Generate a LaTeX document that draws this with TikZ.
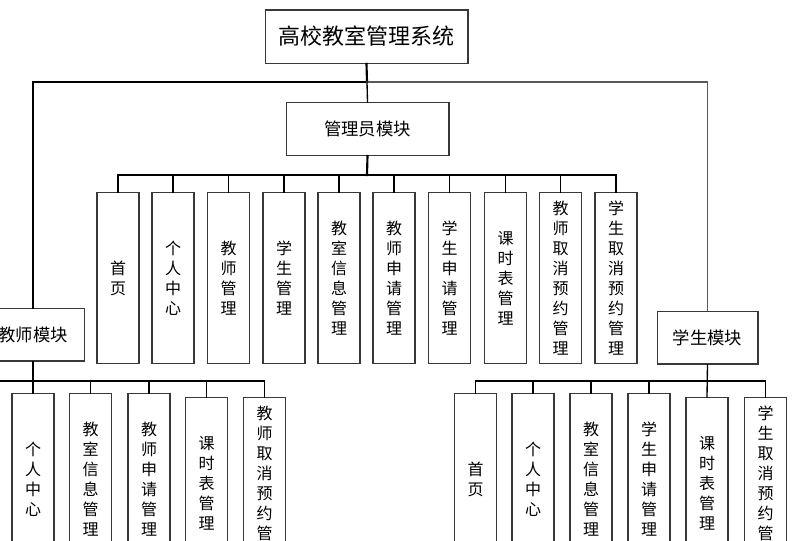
\documentclass[tikz,border=0pt]{standalone}
\usepackage{fontspec}
\newfontfamily\cjk{Noto Sans CJK SC}
\usetikzlibrary{positioning}

\begin{document}
\begin{tikzpicture}[x=0.75pt,y=-0.75pt]
\tikzset{
  boxnode/.style={rectangle,draw=black!78,line width=1pt,fill=white,inner sep=0pt,align=center},
  rootnode/.style={boxnode,minimum width=152pt,minimum height=40pt,font=\cjk\fontsize{16.5pt}{20pt}\selectfont},
  modnode/.style={boxnode,minimum width=77pt,minimum height=39.5pt,font=\cjk\fontsize{13pt}{16pt}\selectfont},
  leafnode/.style={boxnode,anchor=north,minimum width=31.5pt,minimum height=128pt,font=\cjk\fontsize{12pt}{15pt}\selectfont},
  treeedge/.style={draw=black,line width=1pt,line cap=rect},
  thickedge/.style={treeedge,line width=1.6pt},
  paleedge/.style={treeedge,draw=black!65,line width=1.2pt}
}
\useasboundingbox (0,0) rectangle (800,540);
\clip (0,0) rectangle (800,540);
% root and modules
\node[rootnode] (n_sys) at (366.5,36.5) {高校教室管理系统};
\node[modnode,minimum width=122pt] (n_admin) at (367.5,129) {管理员模块};
\node[modnode] (n_teacher) at (33,334.5) {教师模块};
\node[modnode,minimum width=75.5pt] (n_student) at (707.5,337.5) {学生模块};
\coordinate (j_top) at (367,82);
\coordinate (j_admin) at (367,175);
\coordinate (j_teacher) at (33,381);
\coordinate (j_tleft) at (-10,381);
\coordinate (j_student) at (707,381);
% admin leaves
\node[leafnode] (n_A1) at (118,192) {首\\页};
\node[leafnode] (n_A2) at (173,192) {个\\人\\中\\心};
\node[leafnode] (n_A3) at (228.5,192) {教\\师\\管\\理};
\node[leafnode] (n_A4) at (284,192) {学\\生\\管\\理};
\node[leafnode] (n_A5) at (339,192) {教\\室\\信\\息\\管\\理};
\node[leafnode] (n_A6) at (394,192) {教\\师\\申\\请\\管\\理};
\node[leafnode] (n_A7) at (449.5,192) {学\\生\\申\\请\\管\\理};
\node[leafnode] (n_A8) at (505.5,192) {课\\时\\表\\管\\理};
\node[leafnode] (n_A9) at (560.5,192) {教\\师\\取\\消\\预\\约\\管\\理};
\node[leafnode] (n_A10) at (616,192) {学\\生\\取\\消\\预\\约\\管\\理};
% teacher leaves
\node[leafnode] (n_T1) at (33,393) {个\\人\\中\\心};
\node[leafnode] (n_T2) at (90.5,393) {教\\室\\信\\息\\管\\理};
\node[leafnode] (n_T3) at (149,393) {教\\师\\申\\请\\管\\理};
\node[leafnode] (n_T4) at (206.5,397) {课\\时\\表\\管\\理};
\node[leafnode] (n_T5) at (264.5,397) {教\\师\\取\\消\\预\\约\\管\\理};
% student leaves
\node[leafnode] (n_S1) at (475.5,393) {首\\页};
\node[leafnode] (n_S2) at (533,393) {个\\人\\中\\心};
\node[leafnode] (n_S3) at (591,393) {教\\室\\信\\息\\管\\理};
\node[leafnode] (n_S4) at (649,393) {学\\生\\申\\请\\管\\理};
\node[leafnode] (n_S5) at (707,397) {课\\时\\表\\管\\理};
\node[leafnode] (n_S6) at (765.5,397) {学\\生\\取\\消\\预\\约\\管\\理};
% connectors
\draw[thickedge] (n_sys.south) -- (j_top);
\draw[thickedge] (j_top) -| (n_teacher.north);
\draw[paleedge] (j_top) -| (n_student.north);
\draw[treeedge] (j_top) -- (n_admin.north);
\draw[thickedge] (n_admin.south) -- (j_admin);
\draw[treeedge] (j_admin) -| (n_A1.north);
\draw[treeedge] (j_admin) -| (n_A2.north);
\draw[treeedge] (j_admin) -| (n_A3.north);
\draw[treeedge] (j_admin) -| (n_A4.north);
\draw[treeedge] (j_admin) -| (n_A5.north);
\draw[treeedge] (j_admin) -| (n_A6.north);
\draw[treeedge] (j_admin) -| (n_A7.north);
\draw[treeedge] (j_admin) -| (n_A8.north);
\draw[treeedge] (j_admin) -| (n_A9.north);
\draw[treeedge] (j_admin) -| (n_A10.north);
\draw[treeedge] (n_teacher.south) -- (n_T1.north);
\draw[treeedge] (j_teacher) -- (j_tleft);
\draw[treeedge] (j_teacher) -| (n_T2.north);
\draw[treeedge] (j_teacher) -| (n_T3.north);
\draw[treeedge] (j_teacher) -| (n_T4.north);
\draw[treeedge] (j_teacher) -| (n_T5.north);
\draw[treeedge] (n_student.south) -- (n_S5.north);
\draw[treeedge] (j_student) -| (n_S1.north);
\draw[treeedge] (j_student) -| (n_S2.north);
\draw[treeedge] (j_student) -| (n_S3.north);
\draw[treeedge] (j_student) -| (n_S4.north);
\draw[treeedge] (j_student) -| (n_S6.north);
\end{tikzpicture}
\end{document}
